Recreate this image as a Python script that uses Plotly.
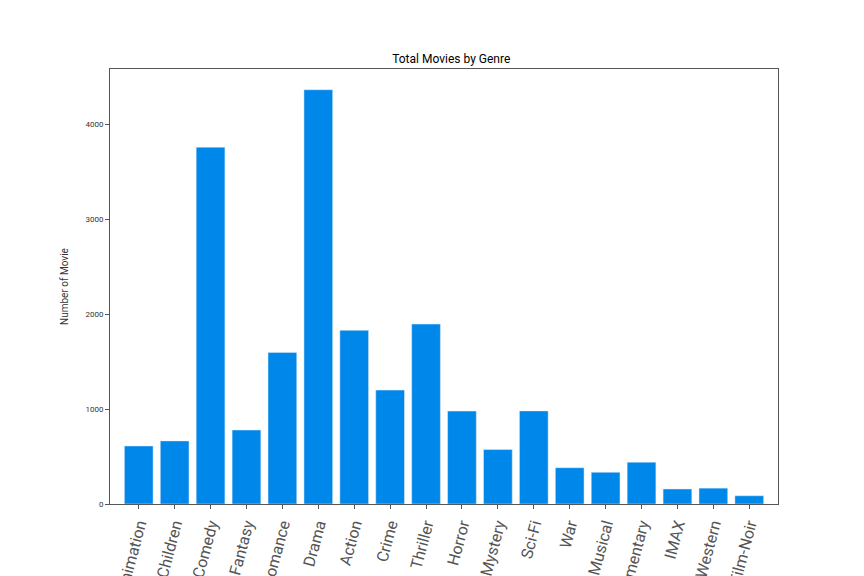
import plotly.graph_objects as go

genres = ["Animation","Children","Comedy","Fantasy","Romance","Drama","Action","Crime","Thriller","Horror","Mystery","Sci-Fi","War","Musical","Documentary","IMAX","Western","Film-Noir"]
counts = [611,664,3756,779,1596,4361,1828,1199,1894,978,573,980,382,334,440,158,167,87]

fig = go.Figure(go.Bar(x=genres, y=counts, marker_color="#0087EA", width=0.8))
fig.update_layout(
    width=864, height=576, plot_bgcolor="white", paper_bgcolor="white",
    margin=dict(l=102, r=94, t=61, b=80, autoexpand=False),
    title=dict(text="Total Movies by Genre", x=0.513, y=0.905, xanchor="center", yanchor="bottom",
               font=dict(family="Roboto", size=12, color="black")),
    showlegend=False, bargap=0.2,
    font=dict(family="Roboto"),
)
fig.update_xaxes(showline=True, mirror=True, linecolor="#555", linewidth=1, ticks="outside",
                 tickcolor="#555", ticklen=4, tickangle=-75, range=[-0.8, 17.8],
                 tickfont=dict(size=16, color="#555", family="Roboto"), showgrid=False)
fig.update_yaxes(showline=True, mirror=True, linecolor="#555", linewidth=1, ticks="outside",
                 tickcolor="#555", ticklen=4, range=[0, 4579], tickvals=[0,1000,2000,3000,4000],
                 tickfont=dict(size=8, color="#333"), showgrid=False, zeroline=False,
                 title=dict(text="Number of Movie", font=dict(size=10, color="#333"), standoff=14))
fig.write_html("out.html")
